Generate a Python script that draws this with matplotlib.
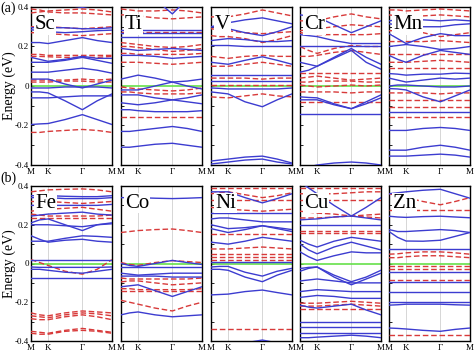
import numpy as np
import matplotlib
matplotlib.use("Agg")
from matplotlib import pyplot as plt

# k-path M - K - Gamma - M (hexagonal BZ), values read at these 7 points
K_LABELS = ["M", "K", "\u0393", "M"]
K_TICKS = [0.0, 0.211, 0.634, 1.0]
K_PTS = [0.0, 0.106, 0.211, 0.42, 0.634, 0.817, 1.0]

SC_SOLID = [
    [0.295, 0.295, 0.295, 0.295, 0.29, 0.29, 0.295],
    [0.285, 0.28, 0.275, 0.27, 0.275, 0.28, 0.283],
    [0.43, 0.43, 0.43, 0.41, 0.398, 0.41, 0.43],
    [0.22, 0.22, 0.215, 0.23, 0.245, 0.23, 0.22],
    [0.145, 0.135, 0.125, 0.135, 0.15, 0.14, 0.14],
    [0.12, 0.12, 0.12, 0.13, 0.145, 0.13, 0.115],
    [0.07, 0.07, 0.07, 0.08, 0.09, 0.08, 0.065],
    [0.035, 0.035, 0.035, 0.01, -0.01, 0.01, 0.03],
    [-0.01, -0.01, -0.01, -0.005, -0.005, -0.005, -0.01],
    [-0.03, -0.03, -0.035, -0.075, -0.12, -0.075, -0.04],
    [-0.06, -0.06, -0.06, -0.055, -0.05, -0.05, -0.05],
    [-0.195, -0.192, -0.19, -0.17, -0.145, -0.17, -0.195],
]
SC_DASH = [
    [0.37, 0.375, 0.38, 0.385, 0.39, 0.385, 0.375],
    [0.39, 0.385, 0.375, 0.37, 0.37, 0.365, 0.36],
    [0.3, 0.3, 0.3, 0.295, 0.29, 0.295, 0.3],
    [0.27, 0.27, 0.265, 0.26, 0.255, 0.26, 0.265],
    [0.16, 0.16, 0.155, 0.155, 0.155, 0.155, 0.155],
    [0.15, 0.15, 0.148, 0.145, 0.145, 0.145, 0.15],
    [0.03, 0.03, 0.03, 0.03, 0.035, 0.03, 0.035],
    [0.02, 0.02, 0.02, 0.025, 0.025, 0.02, 0.02],
    [-0.235, -0.235, -0.23, -0.225, -0.22, -0.225, -0.235],
]

TI_SOLID = [
    [0.45, 0.45, 0.45, 0.44, 0.365, 0.44, 0.45],
    [0.285, 0.285, 0.285, 0.285, 0.285, 0.285, 0.285],
    [0.27, 0.27, 0.27, 0.27, 0.27, 0.27, 0.27],
    [0.25, 0.25, 0.25, 0.25, 0.25, 0.25, 0.25],
    [0.19, 0.185, 0.18, 0.185, 0.19, 0.185, 0.18],
    [0.155, 0.155, 0.155, 0.15, 0.14, 0.145, 0.15],
    [0.035, 0.045, 0.055, 0.04, 0.02, 0.025, 0.035],
    [-0.02, -0.02, -0.02, 0.0, 0.02, 0.0, -0.015],
    [-0.045, -0.045, -0.045, -0.06, -0.07, -0.06, -0.045],
    [-0.085, -0.09, -0.095, -0.085, -0.07, -0.08, -0.09],
    [-0.12, -0.12, -0.125, -0.13, -0.13, -0.13, -0.125],
    [-0.23, -0.23, -0.225, -0.215, -0.205, -0.215, -0.23],
    [-0.31, -0.31, -0.305, -0.295, -0.29, -0.3, -0.31],
]
TI_DASH = [
    [0.39, 0.385, 0.38, 0.38, 0.385, 0.38, 0.37],
    [0.36, 0.36, 0.355, 0.345, 0.34, 0.345, 0.35],
    [0.275, 0.275, 0.275, 0.275, 0.275, 0.275, 0.275],
    [0.22, 0.215, 0.21, 0.2, 0.195, 0.2, 0.21],
    [0.2, 0.2, 0.195, 0.185, 0.175, 0.18, 0.19],
    [0.165, 0.165, 0.16, 0.16, 0.16, 0.16, 0.165],
    [0.12, 0.12, 0.12, 0.115, 0.11, 0.115, 0.12],
    [-0.005, -0.01, -0.015, -0.02, -0.025, -0.02, -0.01],
    [-0.03, -0.03, -0.035, -0.04, -0.04, -0.04, -0.035],
    [-0.155, -0.155, -0.155, -0.155, -0.155, -0.155, -0.155],
]

V_SOLID = [
    [0.3, 0.31, 0.32, 0.335, 0.345, 0.33, 0.315],
    [0.3, 0.295, 0.29, 0.27, 0.255, 0.275, 0.3],
    [0.23, 0.235, 0.24, 0.235, 0.225, 0.225, 0.23],
    [0.205, 0.205, 0.205, 0.2, 0.2, 0.2, 0.2],
    [0.12, 0.115, 0.11, 0.13, 0.148, 0.13, 0.11],
    [0.055, 0.055, 0.055, 0.055, 0.055, 0.055, 0.055],
    [0.025, 0.025, 0.025, 0.025, 0.025, 0.025, 0.025],
    [-0.01, -0.012, -0.015, -0.015, -0.015, -0.015, -0.01],
    [-0.03, -0.035, -0.04, -0.08, -0.105, -0.07, -0.04],
    [-0.38, -0.375, -0.37, -0.36, -0.355, -0.37, -0.39],
    [-0.395, -0.39, -0.385, -0.375, -0.37, -0.385, -0.395],
]
V_DASH = [
    [0.35, 0.35, 0.35, 0.365, 0.385, 0.37, 0.355],
    [0.29, 0.285, 0.28, 0.27, 0.265, 0.27, 0.275],
    [0.255, 0.25, 0.25, 0.24, 0.22, 0.235, 0.255],
    [0.15, 0.145, 0.14, 0.15, 0.155, 0.15, 0.15],
    [0.1, 0.1, 0.1, 0.11, 0.12, 0.11, 0.1],
    [0.04, 0.04, 0.04, 0.04, 0.035, 0.04, 0.04],
    [0.005, 0.005, 0.005, 0.005, 0.005, 0.005, 0.005],
    [-0.055, -0.058, -0.06, -0.05, -0.04, -0.05, -0.055],
]

CR_SOLID = [
    [0.36, 0.355, 0.35, 0.31, 0.27, 0.3, 0.33],
    [0.26, 0.255, 0.25, 0.23, 0.215, 0.215, 0.215],
    [0.205, 0.205, 0.205, 0.205, 0.205, 0.205, 0.205],
    [0.12, 0.11, 0.1, 0.145, 0.19, 0.145, 0.11],
    [0.07, 0.08, 0.1, 0.14, 0.18, 0.12, 0.085],
    [-0.055, -0.058, -0.06, -0.09, -0.115, -0.08, -0.045],
    [-0.07, -0.07, -0.07, -0.095, -0.115, -0.09, -0.06],
    [-0.14, -0.14, -0.14, -0.14, -0.14, -0.14, -0.14],
    [-0.42, -0.41, -0.4, -0.39, -0.385, -0.39, -0.4],
]
CR_DASH = [
    [0.33, 0.33, 0.33, 0.35, 0.365, 0.35, 0.34],
    [0.28, 0.285, 0.29, 0.3, 0.31, 0.305, 0.3],
    [0.27, 0.265, 0.26, 0.26, 0.26, 0.26, 0.265],
    [0.2, 0.18, 0.165, 0.19, 0.205, 0.2, 0.2],
    [0.15, 0.15, 0.155, 0.17, 0.18, 0.17, 0.16],
    [0.065, 0.065, 0.065, 0.065, 0.065, 0.065, 0.065],
    [0.04, 0.045, 0.05, 0.04, 0.03, 0.035, 0.04],
    [0.02, 0.02, 0.025, 0.025, 0.025, 0.02, 0.02],
    [0.005, 0.0, -0.005, 0.0, 0.005, 0.0, 0.005],
    [-0.03, -0.03, -0.03, -0.03, -0.035, -0.03, -0.03],
    [-0.08, -0.08, -0.08, -0.08, -0.08, -0.08, -0.08],
]

MN_SOLID = [
    [0.33, 0.335, 0.34, 0.335, 0.33, 0.335, 0.33],
    [0.315, 0.31, 0.305, 0.3, 0.3, 0.31, 0.315],
    [0.265, 0.24, 0.215, 0.245, 0.265, 0.255, 0.255],
    [0.2, 0.205, 0.21, 0.2, 0.185, 0.19, 0.2],
    [0.155, 0.135, 0.12, 0.155, 0.18, 0.17, 0.16],
    [0.063, 0.06, 0.055, 0.06, 0.06, 0.065, 0.063],
    [0.04, 0.03, 0.02, 0.03, 0.04, 0.035, 0.04],
    [0.0, 0.005, 0.005, 0.0, -0.005, -0.005, 0.0],
    [-0.013, -0.015, -0.02, -0.055, -0.08, -0.05, -0.02],
    [-0.13, -0.13, -0.13, -0.13, -0.13, -0.13, -0.13],
    [-0.225, -0.225, -0.225, -0.215, -0.21, -0.215, -0.225],
    [-0.325, -0.325, -0.325, -0.31, -0.3, -0.31, -0.325],
    [-0.355, -0.355, -0.355, -0.35, -0.345, -0.35, -0.36],
]
MN_DASH = [
    [0.385, 0.385, 0.38, 0.385, 0.39, 0.385, 0.38],
    [0.36, 0.355, 0.35, 0.355, 0.36, 0.355, 0.35],
    [0.28, 0.28, 0.28, 0.27, 0.25, 0.26, 0.27],
    [0.225, 0.225, 0.225, 0.225, 0.23, 0.225, 0.22],
    [0.16, 0.16, 0.16, 0.16, 0.16, 0.16, 0.16],
    [0.12, 0.12, 0.12, 0.125, 0.13, 0.125, 0.12],
    [0.09, 0.09, 0.09, 0.09, 0.09, 0.09, 0.09],
    [-0.035, -0.035, -0.035, -0.035, -0.04, -0.035, -0.035],
    [-0.07, -0.07, -0.07, -0.07, -0.07, -0.07, -0.07],
    [-0.105, -0.105, -0.105, -0.105, -0.105, -0.105, -0.105],
    [-0.155, -0.155, -0.155, -0.155, -0.155, -0.155, -0.155],
]

FE_SOLID = [
    [0.35, 0.35, 0.35, 0.347, 0.345, 0.345, 0.35],
    [0.34, 0.34, 0.34, 0.335, 0.335, 0.335, 0.34],
    [0.3, 0.3, 0.3, 0.3, 0.3, 0.3, 0.305],
    [0.245, 0.25, 0.255, 0.26, 0.265, 0.255, 0.25],
    [0.21, 0.225, 0.23, 0.2, 0.17, 0.2, 0.21],
    [0.2, 0.2, 0.2, 0.195, 0.19, 0.2, 0.205],
    [0.143, 0.125, 0.11, 0.12, 0.125, 0.115, 0.11],
    [0.115, 0.115, 0.115, 0.13, 0.143, 0.14, 0.135],
    [0.016, 0.016, 0.016, 0.016, 0.016, 0.016, 0.016],
    [-0.018, -0.02, -0.02, -0.02, -0.02, -0.02, -0.018],
    [-0.03, -0.03, -0.035, -0.045, -0.05, -0.04, -0.03],
    [-0.077, -0.077, -0.077, -0.077, -0.077, -0.077, -0.077],
]
FE_DASH = [
    [0.37, 0.375, 0.38, 0.383, 0.385, 0.38, 0.37],
    [0.32, 0.32, 0.32, 0.315, 0.31, 0.315, 0.32],
    [0.27, 0.275, 0.28, 0.285, 0.29, 0.28, 0.27],
    [0.255, 0.25, 0.245, 0.245, 0.245, 0.245, 0.25],
    [0.235, 0.235, 0.235, 0.235, 0.235, 0.235, 0.235],
    [0.02, 0.005, -0.01, -0.04, -0.055, -0.03, 0.02],
    [-0.255, -0.265, -0.27, -0.255, -0.245, -0.25, -0.255],
    [-0.27, -0.275, -0.28, -0.265, -0.255, -0.26, -0.27],
    [-0.285, -0.29, -0.29, -0.275, -0.265, -0.275, -0.29],
    [-0.35, -0.355, -0.36, -0.345, -0.335, -0.345, -0.355],
    [-0.36, -0.365, -0.365, -0.35, -0.345, -0.35, -0.36],
]

CO_SOLID = [
    [0.34, 0.34, 0.34, 0.337, 0.335, 0.337, 0.34],
    [0.0, -0.01, -0.015, 0.0, 0.016, 0.005, -0.005],
    [-0.02, -0.02, -0.02, -0.02, -0.02, -0.02, -0.02],
    [-0.05, -0.055, -0.06, -0.055, -0.05, -0.05, -0.05],
    [-0.065, -0.065, -0.065, -0.065, -0.07, -0.07, -0.07],
    [-0.12, -0.115, -0.11, -0.14, -0.17, -0.145, -0.12],
    [-0.265, -0.255, -0.25, -0.265, -0.275, -0.27, -0.265],
]
CO_DASH = [
    [0.16, 0.165, 0.17, 0.175, 0.178, 0.17, 0.16],
    [0.005, -0.005, -0.01, 0.005, 0.015, 0.01, 0.005],
    [-0.075, -0.08, -0.08, -0.08, -0.08, -0.08, -0.075],
    [-0.095, -0.09, -0.09, -0.1, -0.11, -0.105, -0.1],
    [-0.13, -0.13, -0.135, -0.135, -0.135, -0.135, -0.13],
    [-0.14, -0.14, -0.14, -0.14, -0.14, -0.14, -0.14],
    [-0.19, -0.2, -0.21, -0.23, -0.245, -0.22, -0.2],
]

NI_SOLID = [
    [0.37, 0.37, 0.37, 0.34, 0.313, 0.335, 0.36],
    [0.26, 0.26, 0.26, 0.26, 0.26, 0.26, 0.26],
    [0.23, 0.235, 0.235, 0.225, 0.215, 0.215, 0.215],
    [0.2, 0.19, 0.18, 0.185, 0.195, 0.18, 0.165],
    [0.18, 0.17, 0.16, 0.175, 0.195, 0.185, 0.175],
    [0.11, 0.105, 0.1, 0.115, 0.135, 0.125, 0.115],
    [0.008, 0.008, 0.008, 0.008, 0.008, 0.008, 0.008],
    [-0.018, -0.015, -0.015, -0.045, -0.065, -0.04, -0.025],
    [-0.03, -0.03, -0.035, -0.07, -0.094, -0.06, -0.035],
    [-0.162, -0.16, -0.158, -0.145, -0.137, -0.15, -0.162],
    [-0.46, -0.45, -0.44, -0.41, -0.395, -0.41, -0.44],
]
NI_DASH = [
    [0.39, 0.39, 0.39, 0.39, 0.39, 0.39, 0.39],
    [0.36, 0.365, 0.37, 0.355, 0.34, 0.35, 0.365],
    [0.33, 0.33, 0.33, 0.33, 0.33, 0.33, 0.33],
    [0.29, 0.285, 0.28, 0.275, 0.27, 0.275, 0.28],
    [0.15, 0.15, 0.15, 0.15, 0.15, 0.15, 0.15],
    [0.075, 0.075, 0.075, 0.08, 0.085, 0.08, 0.075],
    [0.05, 0.05, 0.05, 0.05, 0.05, 0.05, 0.05],
    [0.035, 0.035, 0.035, 0.035, 0.035, 0.035, 0.035],
    [0.016, 0.016, 0.016, 0.016, 0.016, 0.016, 0.016],
    [-0.34, -0.34, -0.34, -0.34, -0.34, -0.34, -0.34],
]

CU_SOLID = [
    [0.42, 0.39, 0.36, 0.3, 0.245, 0.235, 0.225],
    [0.225, 0.228, 0.23, 0.24, 0.245, 0.29, 0.34],
    [0.2, 0.2, 0.2, 0.2, 0.2, 0.2, 0.2],
    [0.12, 0.1, 0.085, 0.115, 0.135, 0.125, 0.115],
    [0.1, 0.07, 0.05, 0.085, 0.11, 0.09, 0.07],
    [0.06, 0.035, 0.016, 0.04, 0.06, 0.055, 0.055],
    [-0.026, -0.02, -0.018, -0.06, -0.094, -0.07, -0.035],
    [-0.04, -0.025, -0.018, -0.07, -0.11, -0.08, -0.05],
    [-0.09, -0.085, -0.08, -0.09, -0.1, -0.1, -0.1],
    [-0.145, -0.14, -0.135, -0.14, -0.145, -0.145, -0.145],
    [-0.175, -0.17, -0.165, -0.17, -0.18, -0.18, -0.18],
    [-0.215, -0.225, -0.23, -0.22, -0.21, -0.24, -0.265],
    [-0.3, -0.3, -0.3, -0.3, -0.3, -0.3, -0.3],
    [-0.33, -0.33, -0.33, -0.33, -0.33, -0.33, -0.33],
    [-0.357, -0.357, -0.357, -0.357, -0.357, -0.357, -0.357],
    [-0.383, -0.383, -0.38, -0.375, -0.37, -0.375, -0.383],
]
CU_DASH = [
    [0.39, 0.39, 0.39, 0.39, 0.39, 0.39, 0.39],
    [0.36, 0.36, 0.36, 0.36, 0.365, 0.37, 0.37],
    [0.33, 0.33, 0.33, 0.33, 0.33, 0.33, 0.33],
    [0.27, 0.265, 0.26, 0.255, 0.245, 0.25, 0.255],
    [0.235, 0.235, 0.235, 0.24, 0.245, 0.24, 0.235],
    [0.17, 0.17, 0.17, 0.17, 0.17, 0.17, 0.17],
    [0.155, 0.155, 0.155, 0.155, 0.155, 0.155, 0.155],
    [-0.205, -0.205, -0.205, -0.2, -0.195, -0.2, -0.205],
    [-0.22, -0.22, -0.22, -0.215, -0.21, -0.215, -0.22],
    [-0.235, -0.235, -0.235, -0.235, -0.235, -0.235, -0.235],
]

ZN_SOLID = [
    [0.36, 0.365, 0.37, 0.378, 0.383, 0.36, 0.337],
    [0.244, 0.24, 0.238, 0.242, 0.244, 0.24, 0.236],
    [0.175, 0.165, 0.165, 0.17, 0.175, 0.17, 0.16],
    [0.165, 0.135, 0.116, 0.115, 0.12, 0.14, 0.16],
    [0.074, 0.074, 0.074, 0.074, 0.074, 0.074, 0.074],
    [-0.045, -0.045, -0.045, -0.045, -0.045, -0.045, -0.045],
    [-0.096, -0.096, -0.096, -0.096, -0.096, -0.096, -0.096],
    [-0.147, -0.147, -0.147, -0.147, -0.147, -0.147, -0.147],
    [-0.198, -0.198, -0.198, -0.198, -0.198, -0.198, -0.198],
    [-0.215, -0.213, -0.21, -0.21, -0.21, -0.213, -0.215],
    [-0.333, -0.335, -0.338, -0.345, -0.35, -0.34, -0.333],
]
ZN_DASH = [
    [0.36, 0.35, 0.34, 0.32, 0.303, 0.32, 0.34],
    [0.278, 0.278, 0.278, 0.278, 0.278, 0.278, 0.278],
    [0.048, 0.05, 0.055, 0.06, 0.06, 0.055, 0.048],
    [0.03, 0.03, 0.035, 0.04, 0.04, 0.035, 0.03],
    [-0.011, -0.011, -0.011, -0.011, -0.011, -0.011, -0.011],
    [-0.028, -0.028, -0.028, -0.028, -0.028, -0.028, -0.028],
    [-0.087, -0.087, -0.087, -0.087, -0.087, -0.087, -0.087],
    [-0.367, -0.367, -0.367, -0.367, -0.367, -0.367, -0.367],
]

ELEMENTS = [["Sc", "Ti", "V", "Cr", "Mn"], ["Fe", "Co", "Ni", "Cu", "Zn"]]
SOLID = {"Sc": SC_SOLID, "Ti": TI_SOLID, "V": V_SOLID, "Cr": CR_SOLID, "Mn": MN_SOLID,
         "Fe": FE_SOLID, "Co": CO_SOLID, "Ni": NI_SOLID, "Cu": CU_SOLID, "Zn": ZN_SOLID}
DASH = {"Sc": SC_DASH, "Ti": TI_DASH, "V": V_DASH, "Cr": CR_DASH, "Mn": MN_DASH,
        "Fe": FE_DASH, "Co": CO_DASH, "Ni": NI_DASH, "Cu": CU_DASH, "Zn": ZN_DASH}
Y_TICKS = [-0.4, -0.2, 0, 0.2, 0.4]
Y_LABELS = ["-0.4", "-0.2", "0", "0.2", "0.4"]

plt.rcParams["font.family"] = ["Liberation Serif", "DejaVu Serif"]

fig = plt.figure(figsize=(4.74, 3.53), dpi=100)
W, H = 474.0, 353.0
lefts = [31, 121, 211, 300, 389]
rows = [(7, 165), (186, 341)]

for r, (ytop, ybot) in enumerate(rows):
    for c, el in enumerate(ELEMENTS[r]):
        ax = fig.add_axes([lefts[c] / W, 1 - ybot / H, 81 / W, (ybot - ytop) / H])
        for kx in K_TICKS[1:3]:
            ax.axvline(kx, color="#d0d0d0", lw=0.6, zorder=1)
        for band in DASH[el]:
            ax.plot(K_PTS, band, color="#d83a3a", lw=1.0, ls=(0, (4, 2)), zorder=3)
        for band in SOLID[el]:
            ax.plot(K_PTS, band, color="#3c3cd0", lw=1.0, zorder=4)
        ax.axhline(0, color="#66e04a", lw=1.2, zorder=2)
        ax.set_xlim(0, 1)
        ax.set_ylim(-0.4, 0.4)
        ax.set_xticks(K_TICKS)
        ax.set_xticklabels(K_LABELS, fontsize=6.5)
        ax.set_yticks(Y_TICKS)
        ax.set_yticks(np.arange(-0.3, 0.4, 0.2), minor=True)
        ax.tick_params(axis="x", length=0, pad=2)
        ax.tick_params(axis="y", which="both", direction="in", length=2.5, width=0.6, pad=1.5)
        if c == 0:
            ax.set_yticklabels(Y_LABELS, fontsize=6.5)
            ax.set_ylabel("Energy (eV)", fontsize=10)
            ax.yaxis.set_label_coords(-0.19, 0.5)
        else:
            ax.set_yticklabels([])
        for s in ax.spines.values():
            s.set_linewidth(1.0)
        ax.text(0.05, 0.95, el, transform=ax.transAxes, fontsize=15,
                ha="left", va="top", zorder=10,
                bbox=dict(facecolor="white", edgecolor="none", pad=0.5))

fig.text(0.0, 1 - 8 / H, "(a)", fontsize=10, ha="left", va="center")
fig.text(0.0, 1 - 178 / H, "(b)", fontsize=10, ha="left", va="center")

plt.savefig("out.png", dpi=100)
